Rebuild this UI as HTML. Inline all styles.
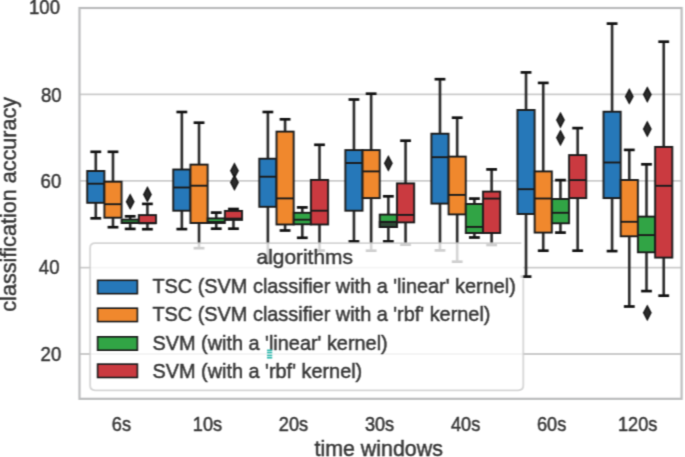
<!DOCTYPE html>
<html><head><meta charset="utf-8"><title>boxplot</title>
<style>
html,body{margin:0;padding:0;background:#fff;width:685px;height:457px;overflow:hidden}
svg{display:block}
</style></head>
<body>
<svg width="685" height="457" viewBox="0 0 685 457">
<defs><filter id="soft" x="0" y="0" width="685" height="457" filterUnits="userSpaceOnUse" color-interpolation-filters="sRGB"><feConvolveMatrix order="3" kernelMatrix="0.0308 0.0784 0.0308 0.1584 0.4032 0.1584 0.0308 0.0784 0.0308" divisor="1" edgeMode="duplicate"/></filter></defs>
<rect width="685" height="457" fill="#ffffff"/>
<g filter="url(#soft)">
<rect width="685" height="457" fill="#ffffff"/>
<line x1="79.5" y1="94.3" x2="681.6" y2="94.3" stroke="#cccccc" stroke-width="1.8"/>
<line x1="79.5" y1="180.9" x2="681.6" y2="180.9" stroke="#cccccc" stroke-width="1.8"/>
<line x1="79.5" y1="267.6" x2="681.6" y2="267.6" stroke="#cccccc" stroke-width="1.8"/>
<line x1="79.5" y1="354" x2="681.6" y2="354" stroke="#cccccc" stroke-width="1.8"/>
<line x1="95.78" y1="151.8" x2="95.78" y2="171" stroke="#282828" stroke-width="2.6"/>
<line x1="95.78" y1="202.8" x2="95.78" y2="218.3" stroke="#282828" stroke-width="2.6"/>
<line x1="90.38" y1="151.8" x2="101.19" y2="151.8" stroke="#121212" stroke-width="2.7"/>
<line x1="90.38" y1="218.3" x2="101.19" y2="218.3" stroke="#121212" stroke-width="2.7"/>
<rect x="87.19" y="171" width="17.2" height="31.8" fill="#2678b9" stroke="#1c1c1c" stroke-width="1.9"/>
<line x1="87.19" y1="183.7" x2="104.38" y2="183.7" stroke="#1c1c1c" stroke-width="1.9"/>
<line x1="112.99" y1="151.8" x2="112.99" y2="181.7" stroke="#282828" stroke-width="2.6"/>
<line x1="112.99" y1="217.7" x2="112.99" y2="227.2" stroke="#282828" stroke-width="2.6"/>
<line x1="107.59" y1="151.8" x2="118.39" y2="151.8" stroke="#121212" stroke-width="2.7"/>
<line x1="107.59" y1="227.2" x2="118.39" y2="227.2" stroke="#121212" stroke-width="2.7"/>
<rect x="104.39" y="181.7" width="17.2" height="36" fill="#f0882d" stroke="#1c1c1c" stroke-width="1.9"/>
<line x1="104.39" y1="204.2" x2="121.59" y2="204.2" stroke="#1c1c1c" stroke-width="1.9"/>
<line x1="130.2" y1="216.3" x2="130.2" y2="219.6" stroke="#282828" stroke-width="2.6"/>
<line x1="130.2" y1="223" x2="130.2" y2="228.9" stroke="#282828" stroke-width="2.6"/>
<line x1="124.8" y1="216.3" x2="135.6" y2="216.3" stroke="#121212" stroke-width="2.7"/>
<line x1="124.8" y1="228.9" x2="135.6" y2="228.9" stroke="#121212" stroke-width="2.7"/>
<rect x="121.6" y="219.6" width="17.2" height="3.4" fill="#31a445" stroke="#1c1c1c" stroke-width="1.9"/>
<line x1="121.6" y1="222.6" x2="138.8" y2="222.6" stroke="#1c1c1c" stroke-width="1.9"/>
<path d="M130.2 194.7L133.9 201.7L130.2 208.7L126.5 201.7Z" fill="#2a2a2a" stroke="#151515" stroke-width="1.3"/>
<line x1="147.41" y1="203.9" x2="147.41" y2="215.1" stroke="#282828" stroke-width="2.6"/>
<line x1="147.41" y1="223.2" x2="147.41" y2="229.2" stroke="#282828" stroke-width="2.6"/>
<line x1="142.01" y1="203.9" x2="152.81" y2="203.9" stroke="#121212" stroke-width="2.7"/>
<line x1="142.01" y1="229.2" x2="152.81" y2="229.2" stroke="#121212" stroke-width="2.7"/>
<rect x="138.81" y="215.1" width="17.2" height="8.1" fill="#ca3a40" stroke="#1c1c1c" stroke-width="1.9"/>
<line x1="138.81" y1="223.2" x2="156.01" y2="223.2" stroke="#1c1c1c" stroke-width="1.9"/>
<path d="M147.41 187.4L151.11 194.4L147.41 201.4L143.72 194.4Z" fill="#2a2a2a" stroke="#151515" stroke-width="1.3"/>
<line x1="181.83" y1="112" x2="181.83" y2="169.5" stroke="#282828" stroke-width="2.6"/>
<line x1="181.83" y1="210.7" x2="181.83" y2="229.1" stroke="#282828" stroke-width="2.6"/>
<line x1="176.43" y1="112" x2="187.23" y2="112" stroke="#121212" stroke-width="2.7"/>
<line x1="176.43" y1="229.1" x2="187.23" y2="229.1" stroke="#121212" stroke-width="2.7"/>
<rect x="173.23" y="169.5" width="17.2" height="41.2" fill="#2678b9" stroke="#1c1c1c" stroke-width="1.9"/>
<line x1="173.23" y1="187.5" x2="190.43" y2="187.5" stroke="#1c1c1c" stroke-width="1.9"/>
<line x1="199.04" y1="122.7" x2="199.04" y2="164.6" stroke="#282828" stroke-width="2.6"/>
<line x1="199.04" y1="223" x2="199.04" y2="248.2" stroke="#282828" stroke-width="2.6"/>
<line x1="193.64" y1="122.7" x2="204.44" y2="122.7" stroke="#121212" stroke-width="2.7"/>
<line x1="193.64" y1="248.2" x2="204.44" y2="248.2" stroke="#121212" stroke-width="2.7"/>
<rect x="190.44" y="164.6" width="17.2" height="58.4" fill="#f0882d" stroke="#1c1c1c" stroke-width="1.9"/>
<line x1="190.44" y1="185.7" x2="207.64" y2="185.7" stroke="#1c1c1c" stroke-width="1.9"/>
<line x1="216.25" y1="212.6" x2="216.25" y2="218.4" stroke="#282828" stroke-width="2.6"/>
<line x1="216.25" y1="223" x2="216.25" y2="228.7" stroke="#282828" stroke-width="2.6"/>
<line x1="210.85" y1="212.6" x2="221.66" y2="212.6" stroke="#121212" stroke-width="2.7"/>
<line x1="210.85" y1="228.7" x2="221.66" y2="228.7" stroke="#121212" stroke-width="2.7"/>
<rect x="207.66" y="218.4" width="17.2" height="4.6" fill="#31a445" stroke="#1c1c1c" stroke-width="1.9"/>
<line x1="207.66" y1="222" x2="224.85" y2="222" stroke="#1c1c1c" stroke-width="1.9"/>
<line x1="233.46" y1="209" x2="233.46" y2="210.9" stroke="#282828" stroke-width="2.6"/>
<line x1="233.46" y1="219.9" x2="233.46" y2="228.7" stroke="#282828" stroke-width="2.6"/>
<line x1="228.06" y1="209" x2="238.86" y2="209" stroke="#121212" stroke-width="2.7"/>
<line x1="228.06" y1="228.7" x2="238.86" y2="228.7" stroke="#121212" stroke-width="2.7"/>
<rect x="224.86" y="210.9" width="17.2" height="9" fill="#ca3a40" stroke="#1c1c1c" stroke-width="1.9"/>
<line x1="224.86" y1="218.6" x2="242.06" y2="218.6" stroke="#1c1c1c" stroke-width="1.9"/>
<path d="M234.46 163.7L238.16 170.7L234.46 177.7L230.76 170.7Z" fill="#2a2a2a" stroke="#151515" stroke-width="1.3"/>
<path d="M234.46 175.5L238.16 182.5L234.46 189.5L230.76 182.5Z" fill="#2a2a2a" stroke="#151515" stroke-width="1.3"/>
<line x1="267.88" y1="112" x2="267.88" y2="158.7" stroke="#282828" stroke-width="2.6"/>
<line x1="267.88" y1="206.8" x2="267.88" y2="262" stroke="#282828" stroke-width="2.6"/>
<line x1="262.49" y1="112" x2="273.28" y2="112" stroke="#121212" stroke-width="2.7"/>
<line x1="262.49" y1="262" x2="273.28" y2="262" stroke="#121212" stroke-width="2.7"/>
<rect x="259.28" y="158.7" width="17.2" height="48.1" fill="#2678b9" stroke="#1c1c1c" stroke-width="1.9"/>
<line x1="259.28" y1="176.7" x2="276.49" y2="176.7" stroke="#1c1c1c" stroke-width="1.9"/>
<line x1="285.09" y1="119.3" x2="285.09" y2="131.6" stroke="#282828" stroke-width="2.6"/>
<line x1="285.09" y1="224.5" x2="285.09" y2="230.5" stroke="#282828" stroke-width="2.6"/>
<line x1="279.69" y1="119.3" x2="290.49" y2="119.3" stroke="#121212" stroke-width="2.7"/>
<line x1="279.69" y1="230.5" x2="290.49" y2="230.5" stroke="#121212" stroke-width="2.7"/>
<rect x="276.49" y="131.6" width="17.2" height="92.9" fill="#f0882d" stroke="#1c1c1c" stroke-width="1.9"/>
<line x1="276.49" y1="198.4" x2="293.69" y2="198.4" stroke="#1c1c1c" stroke-width="1.9"/>
<line x1="302.31" y1="207.4" x2="302.31" y2="212.8" stroke="#282828" stroke-width="2.6"/>
<line x1="302.31" y1="224.3" x2="302.31" y2="237.8" stroke="#282828" stroke-width="2.6"/>
<line x1="296.91" y1="207.4" x2="307.7" y2="207.4" stroke="#121212" stroke-width="2.7"/>
<line x1="296.91" y1="237.8" x2="307.7" y2="237.8" stroke="#121212" stroke-width="2.7"/>
<rect x="293.7" y="212.8" width="17.2" height="11.5" fill="#31a445" stroke="#1c1c1c" stroke-width="1.9"/>
<line x1="293.7" y1="219.7" x2="310.91" y2="219.7" stroke="#1c1c1c" stroke-width="1.9"/>
<line x1="319.51" y1="144.8" x2="319.51" y2="179.9" stroke="#282828" stroke-width="2.6"/>
<line x1="319.51" y1="224.5" x2="319.51" y2="250.5" stroke="#282828" stroke-width="2.6"/>
<line x1="314.12" y1="144.8" x2="324.91" y2="144.8" stroke="#121212" stroke-width="2.7"/>
<line x1="314.12" y1="250.5" x2="324.91" y2="250.5" stroke="#121212" stroke-width="2.7"/>
<rect x="310.91" y="179.9" width="17.2" height="44.6" fill="#ca3a40" stroke="#1c1c1c" stroke-width="1.9"/>
<line x1="310.91" y1="210.7" x2="328.12" y2="210.7" stroke="#1c1c1c" stroke-width="1.9"/>
<line x1="353.94" y1="99.5" x2="353.94" y2="150.1" stroke="#282828" stroke-width="2.6"/>
<line x1="353.94" y1="210.7" x2="353.94" y2="241.4" stroke="#282828" stroke-width="2.6"/>
<line x1="348.54" y1="99.5" x2="359.33" y2="99.5" stroke="#121212" stroke-width="2.7"/>
<line x1="348.54" y1="241.4" x2="359.33" y2="241.4" stroke="#121212" stroke-width="2.7"/>
<rect x="345.33" y="150.1" width="17.2" height="60.6" fill="#2678b9" stroke="#1c1c1c" stroke-width="1.9"/>
<line x1="345.33" y1="163" x2="362.54" y2="163" stroke="#1c1c1c" stroke-width="1.9"/>
<line x1="371.14" y1="93.7" x2="371.14" y2="150.1" stroke="#282828" stroke-width="2.6"/>
<line x1="371.14" y1="198.1" x2="371.14" y2="250.7" stroke="#282828" stroke-width="2.6"/>
<line x1="365.75" y1="93.7" x2="376.54" y2="93.7" stroke="#121212" stroke-width="2.7"/>
<line x1="365.75" y1="250.7" x2="376.54" y2="250.7" stroke="#121212" stroke-width="2.7"/>
<rect x="362.54" y="150.1" width="17.2" height="48" fill="#f0882d" stroke="#1c1c1c" stroke-width="1.9"/>
<line x1="362.54" y1="171.4" x2="379.75" y2="171.4" stroke="#1c1c1c" stroke-width="1.9"/>
<line x1="388.36" y1="196.3" x2="388.36" y2="214.6" stroke="#282828" stroke-width="2.6"/>
<line x1="388.36" y1="227" x2="388.36" y2="241.4" stroke="#282828" stroke-width="2.6"/>
<line x1="382.96" y1="196.3" x2="393.75" y2="196.3" stroke="#121212" stroke-width="2.7"/>
<line x1="382.96" y1="241.4" x2="393.75" y2="241.4" stroke="#121212" stroke-width="2.7"/>
<rect x="379.75" y="214.6" width="17.2" height="12.4" fill="#31a445" stroke="#1c1c1c" stroke-width="1.9"/>
<rect x="379.75" y="221.9" width="17.2" height="5.1" fill="#2e4a36" stroke="#1c1c1c" stroke-width="1.9"/>
<line x1="379.75" y1="221.9" x2="396.96" y2="221.9" stroke="#1c1c1c" stroke-width="1.9"/>
<path d="M388.36 156.3L392.06 163.3L388.36 170.3L384.66 163.3Z" fill="#2a2a2a" stroke="#151515" stroke-width="1.3"/>
<line x1="405.56" y1="140.7" x2="405.56" y2="183.4" stroke="#282828" stroke-width="2.6"/>
<line x1="405.56" y1="222.4" x2="405.56" y2="244.7" stroke="#282828" stroke-width="2.6"/>
<line x1="400.16" y1="140.7" x2="410.96" y2="140.7" stroke="#121212" stroke-width="2.7"/>
<line x1="400.16" y1="244.7" x2="410.96" y2="244.7" stroke="#121212" stroke-width="2.7"/>
<rect x="396.96" y="183.4" width="17.2" height="39" fill="#ca3a40" stroke="#1c1c1c" stroke-width="1.9"/>
<line x1="396.96" y1="214.9" x2="414.16" y2="214.9" stroke="#1c1c1c" stroke-width="1.9"/>
<line x1="439.99" y1="79.2" x2="439.99" y2="133.7" stroke="#282828" stroke-width="2.6"/>
<line x1="439.99" y1="203.6" x2="439.99" y2="250.4" stroke="#282828" stroke-width="2.6"/>
<line x1="434.59" y1="79.2" x2="445.38" y2="79.2" stroke="#121212" stroke-width="2.7"/>
<line x1="434.59" y1="250.4" x2="445.38" y2="250.4" stroke="#121212" stroke-width="2.7"/>
<rect x="431.38" y="133.7" width="17.2" height="69.9" fill="#2678b9" stroke="#1c1c1c" stroke-width="1.9"/>
<line x1="431.38" y1="157.2" x2="448.59" y2="157.2" stroke="#1c1c1c" stroke-width="1.9"/>
<line x1="457.19" y1="117.7" x2="457.19" y2="156.6" stroke="#282828" stroke-width="2.6"/>
<line x1="457.19" y1="214.4" x2="457.19" y2="261.7" stroke="#282828" stroke-width="2.6"/>
<line x1="451.79" y1="117.7" x2="462.59" y2="117.7" stroke="#121212" stroke-width="2.7"/>
<line x1="451.79" y1="261.7" x2="462.59" y2="261.7" stroke="#121212" stroke-width="2.7"/>
<rect x="448.59" y="156.6" width="17.2" height="57.8" fill="#f0882d" stroke="#1c1c1c" stroke-width="1.9"/>
<line x1="448.59" y1="194.9" x2="465.79" y2="194.9" stroke="#1c1c1c" stroke-width="1.9"/>
<line x1="474.4" y1="198.6" x2="474.4" y2="204" stroke="#282828" stroke-width="2.6"/>
<line x1="474.4" y1="233" x2="474.4" y2="237.5" stroke="#282828" stroke-width="2.6"/>
<line x1="469" y1="198.6" x2="479.8" y2="198.6" stroke="#121212" stroke-width="2.7"/>
<line x1="469" y1="237.5" x2="479.8" y2="237.5" stroke="#121212" stroke-width="2.7"/>
<rect x="465.8" y="204" width="17.2" height="29" fill="#31a445" stroke="#1c1c1c" stroke-width="1.9"/>
<line x1="465.8" y1="226.9" x2="483" y2="226.9" stroke="#1c1c1c" stroke-width="1.9"/>
<line x1="491.62" y1="169.4" x2="491.62" y2="191.6" stroke="#282828" stroke-width="2.6"/>
<line x1="491.62" y1="233" x2="491.62" y2="245" stroke="#282828" stroke-width="2.6"/>
<line x1="486.22" y1="169.4" x2="497.01" y2="169.4" stroke="#121212" stroke-width="2.7"/>
<line x1="486.22" y1="245" x2="497.01" y2="245" stroke="#121212" stroke-width="2.7"/>
<rect x="483.01" y="191.6" width="17.2" height="41.4" fill="#ca3a40" stroke="#1c1c1c" stroke-width="1.9"/>
<line x1="483.01" y1="198.6" x2="500.22" y2="198.6" stroke="#1c1c1c" stroke-width="1.9"/>
<line x1="526.03" y1="72.4" x2="526.03" y2="110" stroke="#282828" stroke-width="2.6"/>
<line x1="526.03" y1="214" x2="526.03" y2="276.6" stroke="#282828" stroke-width="2.6"/>
<line x1="520.63" y1="72.4" x2="531.43" y2="72.4" stroke="#121212" stroke-width="2.7"/>
<line x1="520.63" y1="276.6" x2="531.43" y2="276.6" stroke="#121212" stroke-width="2.7"/>
<rect x="517.43" y="110" width="17.2" height="104" fill="#2678b9" stroke="#1c1c1c" stroke-width="1.9"/>
<line x1="517.43" y1="189.2" x2="534.63" y2="189.2" stroke="#1c1c1c" stroke-width="1.9"/>
<line x1="543.25" y1="82.9" x2="543.25" y2="171.4" stroke="#282828" stroke-width="2.6"/>
<line x1="543.25" y1="232.6" x2="543.25" y2="250.7" stroke="#282828" stroke-width="2.6"/>
<line x1="537.85" y1="82.9" x2="548.64" y2="82.9" stroke="#121212" stroke-width="2.7"/>
<line x1="537.85" y1="250.7" x2="548.64" y2="250.7" stroke="#121212" stroke-width="2.7"/>
<rect x="534.64" y="171.4" width="17.2" height="61.2" fill="#f0882d" stroke="#1c1c1c" stroke-width="1.9"/>
<line x1="534.64" y1="198.5" x2="551.85" y2="198.5" stroke="#1c1c1c" stroke-width="1.9"/>
<line x1="560.45" y1="180.1" x2="560.45" y2="199" stroke="#282828" stroke-width="2.6"/>
<line x1="560.45" y1="223.3" x2="560.45" y2="232.6" stroke="#282828" stroke-width="2.6"/>
<line x1="555.05" y1="180.1" x2="565.85" y2="180.1" stroke="#121212" stroke-width="2.7"/>
<line x1="555.05" y1="232.6" x2="565.85" y2="232.6" stroke="#121212" stroke-width="2.7"/>
<rect x="551.85" y="199" width="17.2" height="24.3" fill="#31a445" stroke="#1c1c1c" stroke-width="1.9"/>
<line x1="551.85" y1="212.8" x2="569.05" y2="212.8" stroke="#1c1c1c" stroke-width="1.9"/>
<path d="M560.45 113.1L564.15 120.1L560.45 127.1L556.75 120.1Z" fill="#2a2a2a" stroke="#151515" stroke-width="1.3"/>
<path d="M560.45 130.8L564.15 137.8L560.45 144.8L556.75 137.8Z" fill="#2a2a2a" stroke="#151515" stroke-width="1.3"/>
<line x1="577.66" y1="128.1" x2="577.66" y2="155.1" stroke="#282828" stroke-width="2.6"/>
<line x1="577.66" y1="198.1" x2="577.66" y2="250.7" stroke="#282828" stroke-width="2.6"/>
<line x1="572.26" y1="128.1" x2="583.06" y2="128.1" stroke="#121212" stroke-width="2.7"/>
<line x1="572.26" y1="250.7" x2="583.06" y2="250.7" stroke="#121212" stroke-width="2.7"/>
<rect x="569.06" y="155.1" width="17.2" height="43" fill="#ca3a40" stroke="#1c1c1c" stroke-width="1.9"/>
<line x1="569.06" y1="180.1" x2="586.26" y2="180.1" stroke="#1c1c1c" stroke-width="1.9"/>
<line x1="612.09" y1="23.6" x2="612.09" y2="111.7" stroke="#282828" stroke-width="2.6"/>
<line x1="612.09" y1="198.1" x2="612.09" y2="251.1" stroke="#282828" stroke-width="2.6"/>
<line x1="606.69" y1="23.6" x2="617.49" y2="23.6" stroke="#121212" stroke-width="2.7"/>
<line x1="606.69" y1="251.1" x2="617.49" y2="251.1" stroke="#121212" stroke-width="2.7"/>
<rect x="603.49" y="111.7" width="17.2" height="86.4" fill="#2678b9" stroke="#1c1c1c" stroke-width="1.9"/>
<line x1="603.49" y1="162.5" x2="620.69" y2="162.5" stroke="#1c1c1c" stroke-width="1.9"/>
<line x1="629.29" y1="149.9" x2="629.29" y2="180" stroke="#282828" stroke-width="2.6"/>
<line x1="629.29" y1="236.3" x2="629.29" y2="306.5" stroke="#282828" stroke-width="2.6"/>
<line x1="623.89" y1="149.9" x2="634.69" y2="149.9" stroke="#121212" stroke-width="2.7"/>
<line x1="623.89" y1="306.5" x2="634.69" y2="306.5" stroke="#121212" stroke-width="2.7"/>
<rect x="620.69" y="180" width="17.2" height="56.3" fill="#f0882d" stroke="#1c1c1c" stroke-width="1.9"/>
<line x1="620.69" y1="221.8" x2="637.89" y2="221.8" stroke="#1c1c1c" stroke-width="1.9"/>
<path d="M629.29 89.4L633 96.4L629.29 103.4L625.59 96.4Z" fill="#2a2a2a" stroke="#151515" stroke-width="1.3"/>
<line x1="646.5" y1="164.3" x2="646.5" y2="216.6" stroke="#282828" stroke-width="2.6"/>
<line x1="646.5" y1="252.3" x2="646.5" y2="291.1" stroke="#282828" stroke-width="2.6"/>
<line x1="641.11" y1="164.3" x2="651.9" y2="164.3" stroke="#121212" stroke-width="2.7"/>
<line x1="641.11" y1="291.1" x2="651.9" y2="291.1" stroke="#121212" stroke-width="2.7"/>
<rect x="637.9" y="216.6" width="17.2" height="35.7" fill="#31a445" stroke="#1c1c1c" stroke-width="1.9"/>
<line x1="637.9" y1="235.1" x2="655.11" y2="235.1" stroke="#1c1c1c" stroke-width="1.9"/>
<path d="M647.3 87.6L651 94.6L647.3 101.6L643.6 94.6Z" fill="#2a2a2a" stroke="#151515" stroke-width="1.3"/>
<path d="M647.3 122L651 129L647.3 136L643.6 129Z" fill="#2a2a2a" stroke="#151515" stroke-width="1.3"/>
<path d="M647.3 305.8L651 312.8L647.3 319.8L643.6 312.8Z" fill="#2a2a2a" stroke="#151515" stroke-width="1.3"/>
<line x1="663.72" y1="41.7" x2="663.72" y2="146.9" stroke="#282828" stroke-width="2.6"/>
<line x1="663.72" y1="257.6" x2="663.72" y2="295.7" stroke="#282828" stroke-width="2.6"/>
<line x1="658.32" y1="41.7" x2="669.12" y2="41.7" stroke="#121212" stroke-width="2.7"/>
<line x1="658.32" y1="295.7" x2="669.12" y2="295.7" stroke="#121212" stroke-width="2.7"/>
<rect x="655.12" y="146.9" width="17.2" height="110.7" fill="#ca3a40" stroke="#1c1c1c" stroke-width="1.9"/>
<line x1="655.12" y1="185.8" x2="672.32" y2="185.8" stroke="#1c1c1c" stroke-width="1.9"/>
<rect x="79.5" y="8.0" width="602.1" height="390.8" fill="none" stroke="#bcbdbe" stroke-width="2.2"/>
<rect x="90.1" y="243.2" width="433.2" height="147.1" rx="5" ry="5" fill="#ffffff" fill-opacity="0.8"/>
<path d="M523.3 278.5V385.3Q523.3 390.3 518.3 390.3H95.1Q90.1 390.3 90.1 385.3V248.2Q90.1 243.2 95.1 243.2H521.3" fill="none" stroke="#cccccc" stroke-opacity="0.8" stroke-width="1.8"/>
<rect x="97.6" y="280.3" width="39.8" height="13.4" fill="#2678b9" stroke="#1c1c1c" stroke-width="1.6"/>
<rect x="97.6" y="308.2" width="39.8" height="13.4" fill="#f0882d" stroke="#1c1c1c" stroke-width="1.6"/>
<rect x="97.6" y="336.8" width="39.8" height="13.4" fill="#31a445" stroke="#1c1c1c" stroke-width="1.6"/>
<rect x="97.6" y="364.1" width="39.8" height="13.4" fill="#ca3a40" stroke="#1c1c1c" stroke-width="1.6"/>
<g font-family="'Liberation Sans', Arial, sans-serif" fill="#363636" stroke="#363636" stroke-width="0.45">
<text transform="translate(304.7 264.2)" font-size="20.9" text-anchor="middle">algorithms</text>
<text transform="translate(152.4 293.4) scale(1.0 1.05)" font-size="19.9">TSC (SVM classifier with a &#39;linear&#39; kernel)</text>
<text transform="translate(152.4 321.2) scale(1.0 1.05)" font-size="19.9">TSC (SVM classifier with a &#39;rbf&#39; kernel)</text>
<text transform="translate(152.4 350.4) scale(1.0 1.05)" font-size="19.9">SVM (with a &#39;linear&#39; kernel)</text>
<text transform="translate(152.4 377.7) scale(1.0 1.05)" font-size="19.9">SVM (with a &#39;rbf&#39; kernel)</text>
<text transform="translate(60 14.2) scale(1.0 1.11)" font-size="18.6" text-anchor="end">100</text>
<text transform="translate(61.6 101.5) scale(1.0 1.11)" font-size="18.6" text-anchor="end">80</text>
<text transform="translate(61.3 187.6) scale(1.0 1.11)" font-size="18.6" text-anchor="end">60</text>
<text transform="translate(59.5 274.4) scale(1.0 1.11)" font-size="18.6" text-anchor="end">40</text>
<text transform="translate(61.3 360.6) scale(1.0 1.11)" font-size="18.6" text-anchor="end">20</text>
<text transform="translate(121.4 431.3) scale(1.0 1.11)" font-size="18.2" text-anchor="middle">6s</text>
<text transform="translate(207.45 431.3) scale(1.0 1.11)" font-size="18.2" text-anchor="middle">10s</text>
<text transform="translate(293.5 431.3) scale(1.0 1.11)" font-size="18.2" text-anchor="middle">20s</text>
<text transform="translate(379.55 431.3) scale(1.0 1.11)" font-size="18.2" text-anchor="middle">30s</text>
<text transform="translate(465.6 431.3) scale(1.0 1.11)" font-size="18.2" text-anchor="middle">40s</text>
<text transform="translate(551.65 431.3) scale(1.0 1.11)" font-size="18.2" text-anchor="middle">60s</text>
<text transform="translate(637.7 431.3) scale(1.0 1.11)" font-size="18.2" text-anchor="middle">120s</text>
<text transform="translate(378.7 456.2) scale(1.0 1.02)" font-size="21.4" text-anchor="middle">time windows</text>
<text transform="translate(16.1 204.3) rotate(-90) scale(1.0 1.06)" font-size="21.6" text-anchor="middle">classification accuracy</text>
</g>
<g fill="#3cbcb2"><rect x="267" y="349.5" width="5.2" height="1.7"/><rect x="267" y="351.7" width="5.2" height="1.7"/><rect x="267" y="354.6" width="5.2" height="1.7"/><rect x="267" y="356.9" width="5.2" height="1.7"/></g>
</g>
</svg>
</body></html>
